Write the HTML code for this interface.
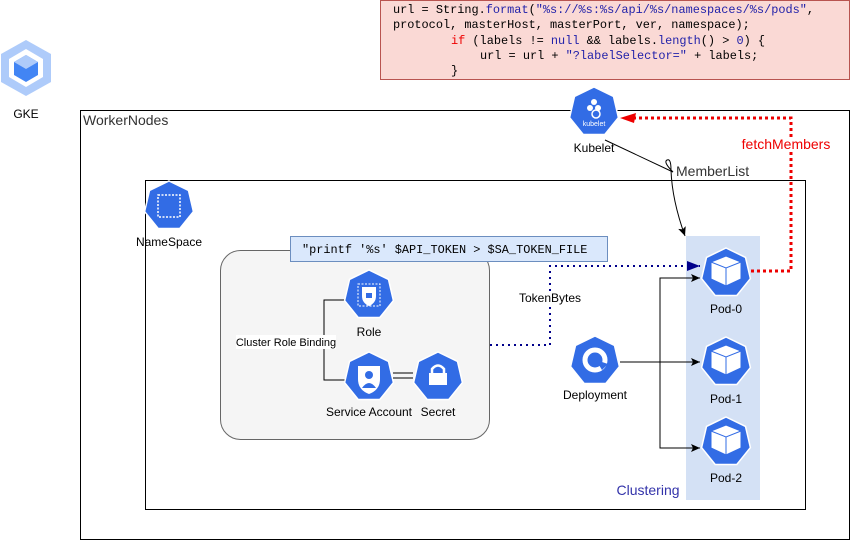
<!DOCTYPE html>
<html><head><meta charset="utf-8"><style>
body{margin:0;background:#fff}
svg{display:block;font-family:"Liberation Sans",sans-serif}
.m{font-family:"Liberation Mono",monospace;font-size:11.9px}
</style></head><body>
<svg width="851" height="540" viewBox="0 0 851 540" xmlns="http://www.w3.org/2000/svg">
<defs>
<polygon id="h" points="0,-25 19.5,-15.6 24.4,5.6 10.8,22.5 -10.8,22.5 -24.4,5.6 -19.5,-15.6" fill="#326ce5" stroke="#fff" stroke-width="1.5"/>
<marker id="ab" markerWidth="10" markerHeight="10" refX="9" refY="5" orient="auto" markerUnits="userSpaceOnUse"><path d="M0,1 L9,5 L0,9 L2,5 Z" fill="#000"/></marker>
<marker id="ad" markerWidth="14" markerHeight="10" refX="13" refY="5" orient="auto" markerUnits="userSpaceOnUse"><path d="M0,0 L13,5 L0,10 Z" fill="#00008b"/></marker>
</defs>

<rect x="380.5" y="0.5" width="469" height="79" fill="#fad9d5" stroke="#b85450"/>
<text class="m" x="393" y="13" fill="#000">url = String.<tspan fill="#2222aa">format</tspan>(<tspan fill="#2222aa">"%s://%s:%s/api/%s/namespaces/%s/pods"</tspan>,</text>
<text class="m" x="393" y="28">protocol, masterHost, masterPort, ver, namespace);</text>
<text class="m" x="451" y="44"><tspan fill="#e00">if</tspan> (labels != <tspan fill="#2222aa">null</tspan> &amp;&amp; labels.<tspan fill="#2222aa">length</tspan>() &gt; <tspan fill="#2222aa">0</tspan>) {</text>
<text class="m" x="480" y="59">url = url + <tspan fill="#2222aa">"?labelSelector="</tspan> + labels;</text>
<text class="m" x="451" y="74">}</text>

<polygon points="26,40 51,54 51,82 26,96 1,82 1,54" fill="#aecbfa"/>
<polygon points="26,49 43,59 43,77 26,87 9,77 9,59" fill="#fff"/>
<polygon points="26,55 38,62 38,75 26,82 14,75 14,62" fill="#4285f4"/>
<polygon points="26,55 38,62 26,69 14,62" fill="#aecbfa"/>
<text x="26" y="118" font-size="12" text-anchor="middle">GKE</text>

<rect x="80.5" y="110.5" width="769" height="429" fill="none" stroke="#000"/>
<text x="83" y="125" font-size="14" fill="#333">WorkerNodes</text>
<rect x="145.5" y="180.5" width="660" height="329" fill="none" stroke="#000"/>

<rect x="686" y="236" width="74" height="264" fill="#d4e1f5"/>
<text x="648" y="495" font-size="14" fill="#3333aa" text-anchor="middle">Clustering</text>

<use href="#h" x="169" y="206"/>
<rect x="158" y="195" width="22" height="22" fill="none" stroke="#fff" stroke-width="1.5" stroke-dasharray="2,1.5"/>
<text x="169" y="246" font-size="12" text-anchor="middle">NameSpace</text>

<use href="#h" x="594" y="112"/>
<circle cx="594" cy="102" r="3" fill="#fff"/><circle cx="590" cy="108" r="3" fill="#fff"/><circle cx="598" cy="108" r="3" fill="#fff"/>
<circle cx="596" cy="114" r="4" fill="none" stroke="#fff" stroke-width="1.5"/>
<text x="594" y="126" font-size="7" fill="#fff" text-anchor="middle">kubelet</text>
<text x="594" y="152" font-size="12" text-anchor="middle">Kubelet</text>

<rect x="220.5" y="250.5" width="269" height="189" rx="20" fill="#f5f5f5" stroke="#666"/>
<rect x="290.5" y="236.5" width="317" height="25" fill="#dae8fc" stroke="#6c8ebf"/>
<text class="m" x="302" y="253">"printf '%s' $API_TOKEN &gt; $SA_TOKEN_FILE</text>

<path d="M345,300 H324 V380 H345" fill="none" stroke="#000"/>
<rect x="236" y="335" width="100" height="14" fill="#fff"/>
<text x="286" y="346" font-size="11" text-anchor="middle">Cluster Role Binding</text>

<use href="#h" x="369" y="295"/>
<path d="M358,284 h22 v22 h-22z" fill="none" stroke="#fff" stroke-dasharray="2,1.5"/>
<path d="M362,287 h14 v9 q0,7 -7,10 q-7,-3 -7,-10z" fill="#fff"/>
<rect x="366" y="293" width="6" height="5" fill="#326ce5"/>
<text x="369" y="336" font-size="12" text-anchor="middle">Role</text>

<use href="#h" x="369" y="377"/>
<path d="M358,366 h22 v13 q0,11 -11,15 q-11,-4 -11,-15z" fill="#fff"/>
<circle cx="369" cy="375" r="4" fill="#326ce5"/><path d="M362,388 q7,-10 14,0z" fill="#326ce5"/>
<text x="369" y="416" font-size="12" text-anchor="middle">Service Account</text>

<path d="M393,373 H413 M393,378 H413" stroke="#000"/>
<use href="#h" x="438" y="377"/>
<rect x="429" y="373" width="18" height="12" fill="#fff"/>
<path d="M432,373 v-4 q6,-7 12,0 v4" fill="none" stroke="#fff" stroke-width="2.5"/>
<text x="438" y="416" font-size="12" text-anchor="middle">Secret</text>

<path d="M490,345 H550 V266 H700" fill="none" stroke="#00008b" stroke-width="2" stroke-dasharray="2,4" marker-end="url(#ad)"/>
<rect x="515" y="291" width="70" height="14" fill="#fff"/>
<text x="550" y="302" font-size="12" text-anchor="middle">TokenBytes</text>

<use href="#h" x="595" y="361"/>
<circle cx="595" cy="360" r="10" fill="none" stroke="#fff" stroke-width="5"/>
<path d="M596,360 l6,10 l6,-6z" fill="#326ce5"/>
<text x="595" y="399" font-size="12" text-anchor="middle">Deployment</text>
<path d="M620,362 H700" stroke="#000" marker-end="url(#ab)"/>
<path d="M660,362 V278 H700" fill="none" stroke="#000" marker-end="url(#ab)"/>
<path d="M660,362 V448 H700" fill="none" stroke="#000" marker-end="url(#ab)"/>

<use href="#h" x="726" y="273"/>
<use href="#h" x="726" y="362"/>
<use href="#h" x="726" y="442"/>
<g fill="#fff" stroke="#326ce5" stroke-width="1">
<path d="M726,256 l15,6 v17 l-15,7 l-15,-7 v-17z"/><path d="M711,262 l15,6 l15,-6 M726,268 v18" fill="none"/>
<path d="M726,345 l15,6 v17 l-15,7 l-15,-7 v-17z"/><path d="M711,351 l15,6 l15,-6 M726,357 v18" fill="none"/>
<path d="M726,425 l15,6 v17 l-15,7 l-15,-7 v-17z"/><path d="M711,431 l15,6 l15,-6 M726,437 v18" fill="none"/>
</g>
<text x="726" y="313" font-size="12" text-anchor="middle">Pod-0</text>
<text x="726" y="403" font-size="12" text-anchor="middle">Pod-1</text>
<text x="726" y="482" font-size="12" text-anchor="middle">Pod-2</text>

<path d="M751,271 H791 V118 H624" fill="none" stroke="#e00" stroke-width="3" stroke-dasharray="3,3"/>
<path d="M620,118 L636,113 L634,123z" fill="#e00"/>
<rect x="740" y="137" width="92" height="15" fill="#fff"/>
<text x="786" y="149" font-size="14" fill="#e00" text-anchor="middle">fetchMembers</text>

<path d="M605,140 L673,172 q-10,-10 -6,-12 q4,-2 4,10 Q672,200 685,236" fill="none" stroke="#000" marker-end="url(#ab)"/>
<text x="676" y="176" font-size="14" fill="#333">MemberList</text>
</svg>
</body></html>
